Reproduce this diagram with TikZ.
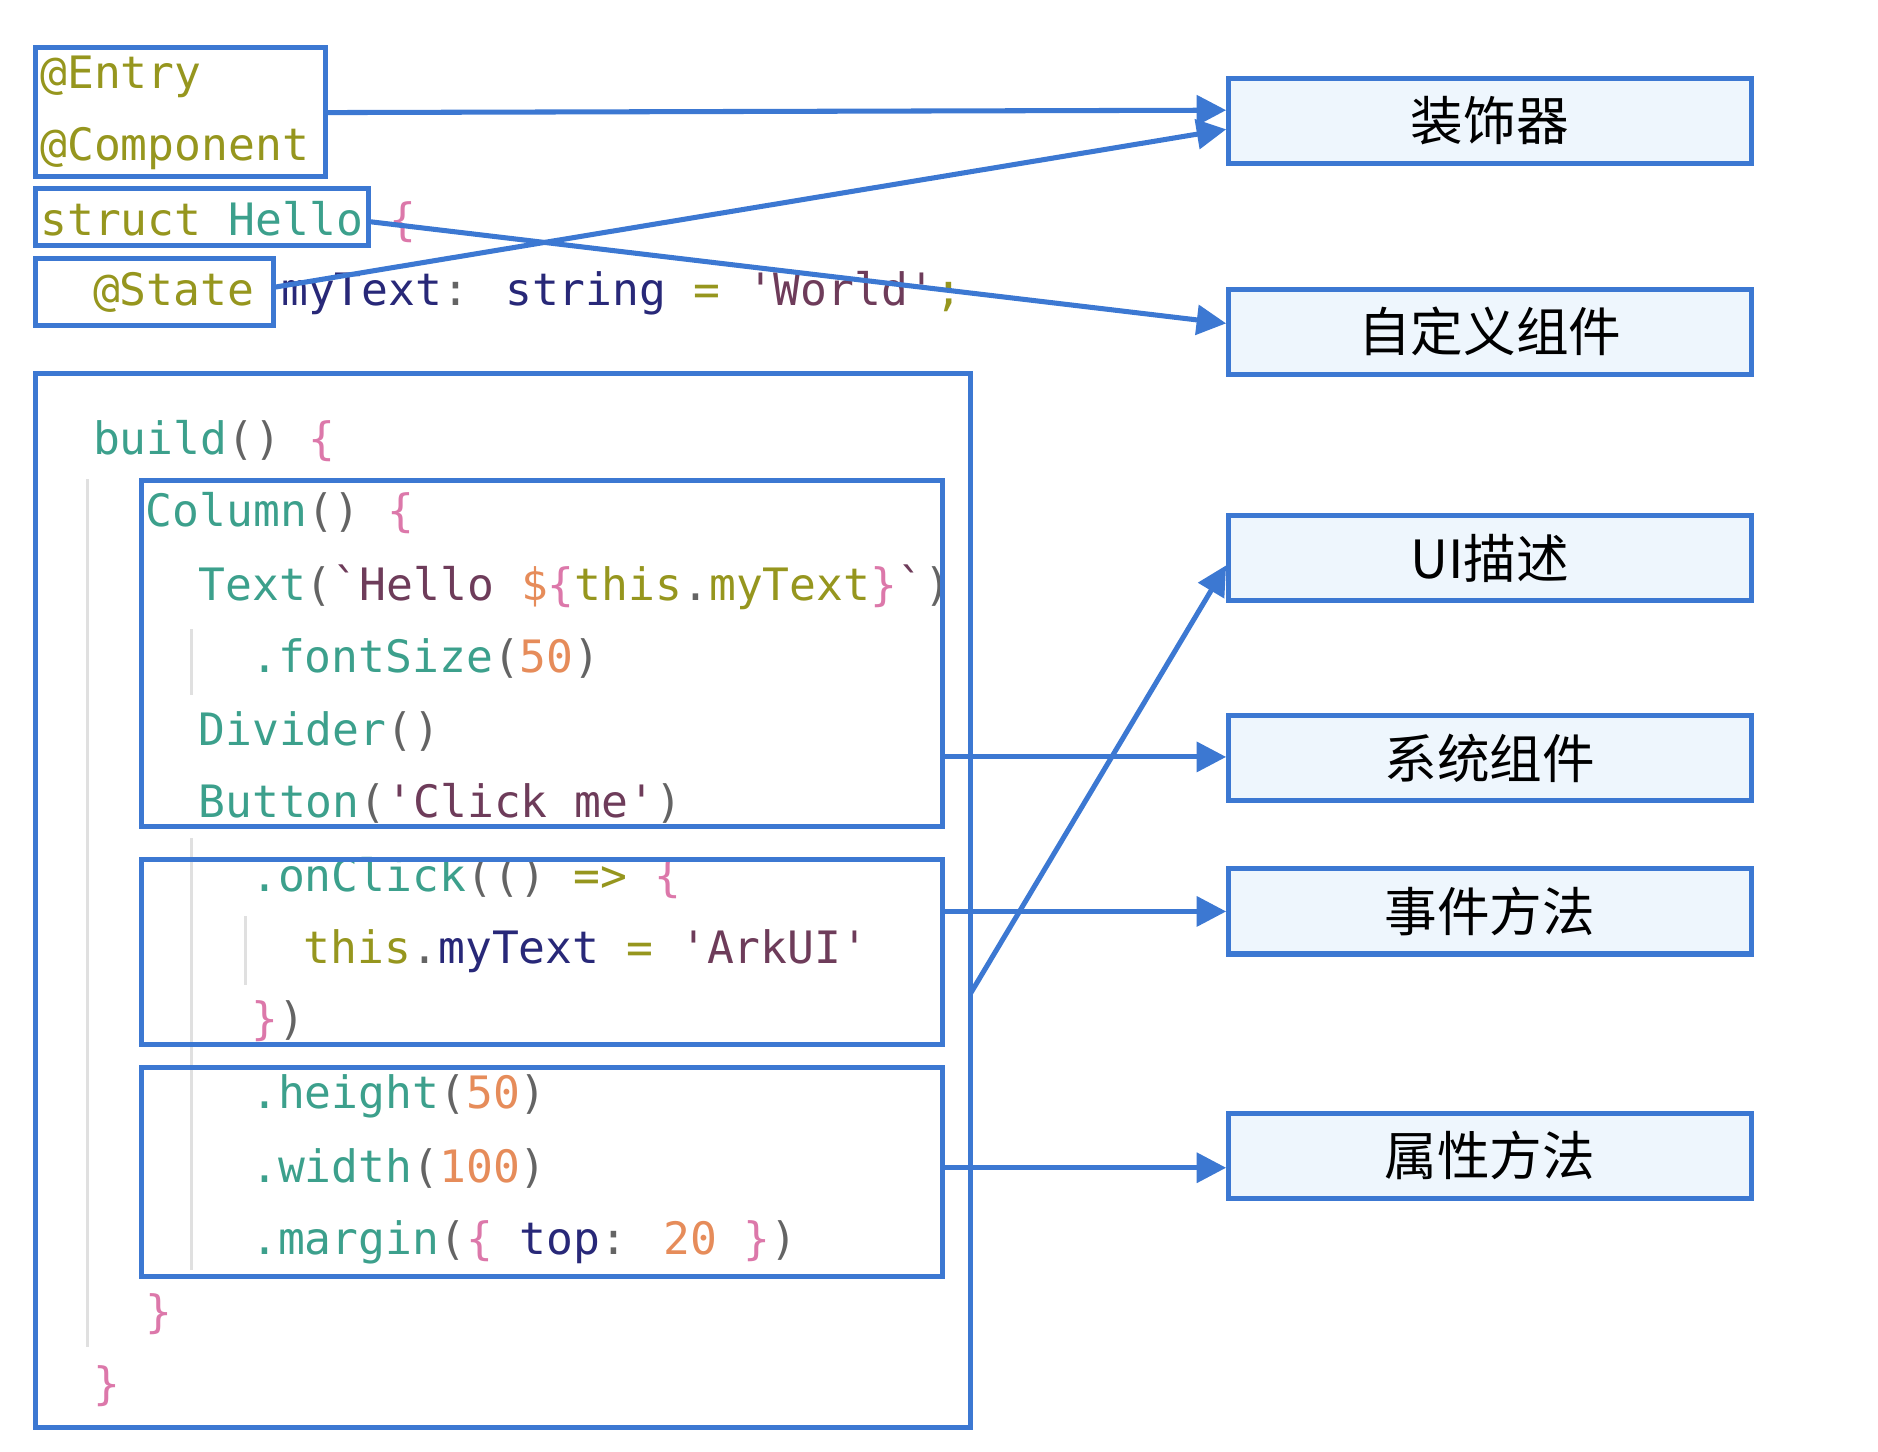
\documentclass[tikz,border=0pt]{standalone}
\usepackage{fontspec}
\setmainfont{DejaVu Sans}
\newfontfamily\codefont{DejaVu Sans Mono}
\newfontfamily\cjk{Noto Sans CJK SC}
\usetikzlibrary{arrows.meta}
\definecolor{boxblue}{RGB}{60,120,210}
\definecolor{labfill}{RGB}{238,246,253}
\definecolor{ckw}{RGB}{150,150,30}
\definecolor{cfn}{RGB}{60,160,140}
\definecolor{cid}{RGB}{40,40,120}
\definecolor{cstr}{RGB}{110,60,90}
\definecolor{cnum}{RGB}{230,140,90}
\definecolor{cbr}{RGB}{220,120,170}
\definecolor{cpl}{RGB}{100,100,100}
\newcommand{\kw}[1]{\textcolor{ckw}{#1}}
\newcommand{\fn}[1]{\textcolor{cfn}{#1}}
\newcommand{\idf}[1]{\textcolor{cid}{#1}}
\newcommand{\str}[1]{\textcolor{cstr}{#1}}
\newcommand{\num}[1]{\textcolor{cnum}{#1}}
\newcommand{\br}[1]{\textcolor{cbr}{#1}}
\newcommand{\pl}[1]{\textcolor{cpl}{#1}}
\tikzset{
  code/.style={font=\codefont\fontsize{10.6}{12}\selectfont, inner sep=0pt, anchor=west},
  frame/.style={draw=boxblue, line width=1.2pt},
  label/.style={draw=boxblue, line width=1.2pt, fill=labfill, minimum width=4.36cm,
    minimum height=0.71cm, font=\cjk\fontsize{12.5}{14}\selectfont},
  link/.style={draw=boxblue, line width=1.2pt, -{Triangle[length=7pt,width=7pt]}},
  guide/.style={draw=black!12, line width=0.8pt}
}
\begin{document}
\begin{tikzpicture}[x=0.01cm, y=-0.01cm]
  \useasboundingbox (0,0) rectangle (1568,1212);
  % indent guides
  \draw[guide] (73,400) -- (73,1125);
  \draw[guide] (160,525) -- (160,580);
  \draw[guide] (160,700) -- (160,1060);
  \draw[guide] (205,765) -- (205,822);
  % code lines
  \node[code] (c1) at (33,64) {\kw{@Entry}};
  \node[code] (c2) at (33,124) {\kw{@Component}};
  \node[code] (c3) at (33,185) {\kw{struct} \fn{Hello} \br{\{}};
  \node[code] (c4) at (77,245) {\kw{@State} \idf{myText}\pl{:} \idf{string} \kw{=} \str{'World'}\kw{;}};
  \node[code] (c5) at (77,368) {\fn{build}\pl{()} \br{\{}};
  \node[code] (c6) at (121,428) {\fn{Column}\pl{()} \br{\{}};
  \node[code] (c7) at (165,490) {\fn{Text}\pl{(}\str{`Hello }\num{\$}\br{\{}\kw{this}\pl{.}\kw{myText}\br{\}}\str{`}\pl{)}};
  \node[code] (c8) at (209,550) {\fn{.fontSize}\pl{(}\num{50}\pl{)}};
  \node[code] (c9) at (165,611) {\fn{Divider}\pl{()}};
  \node[code] (c10) at (165,671) {\fn{Button}\pl{(}\str{'Click me'}\pl{)}};
  \node[code] (c11) at (209,733) {\fn{.onClick}\pl{(() }\kw{=>} \br{\{}};
  \node[code] (c12) at (253,794) {\kw{this}\pl{.}\idf{myText} \kw{=} \str{'ArkUI'}};
  \node[code] (c13) at (209,853) {\br{\}}\pl{)}};
  \node[code] (c14) at (209,915) {\fn{.height}\pl{(}\num{50}\pl{)}};
  \node[code] (c15) at (209,976) {\fn{.width}\pl{(}\num{100}\pl{)}};
  \node[code] (c16) at (209,1037) {\fn{.margin}\pl{(}\br{\{} \idf{top}\pl{:} \num{20} \br{\}}\pl{)}};
  \node[code] (c17) at (121,1097) {\br{\}}};
  \node[code] (c18) at (77,1157) {\br{\}}};
  % frames around the code
  \draw[frame] (30,40) rectangle (272,147) coordinate (fEntryBR);
  \draw[frame] (30,157) rectangle (308,205);
  \draw[frame] (30,216) rectangle (228,272);
  \draw[frame] (30,312) rectangle (810,1192);
  \draw[frame] (118,401) rectangle (787,690);
  \draw[frame] (118,718) rectangle (787,872);
  \draw[frame] (118,891) rectangle (787,1066);
  \coordinate (fEntry) at (272,94);
  \coordinate (fState) at (228,240);
  \coordinate (fStruct) at (308,185);
  \coordinate (fBuild) at (810,830);
  \coordinate (fColumn) at (787,632);
  \coordinate (fClick) at (787,761);
  \coordinate (fAttr) at (787,975);
  % labels
  \node[label] (deco) at (1244,101) {装饰器};
  \node[label] (custom) at (1244,277) {自定义组件};
  \node[label] (ui) at (1244,466) {UI描述};
  \node[label] (sys) at (1244,633) {系统组件};
  \node[label] (event) at (1244,761) {事件方法};
  \node[label] (attr) at (1244,965) {属性方法};
  % arrows
  \draw[link] (fEntry) -- (deco.west |- 0,92);
  \draw[link] (fState) -- (deco.west |- 0,108);
  \draw[link] (fStruct) -- (custom.west |- 0,270);
  \draw[link] (fBuild) -- (ui.west |- 0,472);
  \draw[link] (fColumn) -- (sys.west |- fColumn);
  \draw[link] (fClick) -- (event.west |- fClick);
  \draw[link] (fAttr) -- (attr.west |- fAttr);
\end{tikzpicture}
\end{document}
